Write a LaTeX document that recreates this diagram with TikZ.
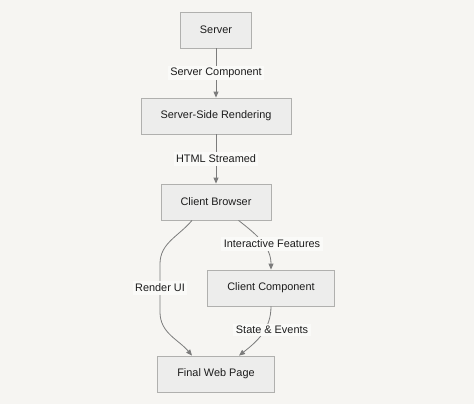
\documentclass[tikz,border=0pt]{standalone}
\usepackage{fontspec}
\setmainfont{Liberation Sans}
\usetikzlibrary{arrows.meta}
\definecolor{bg}{HTML}{F6F5F2}
\definecolor{boxfill}{HTML}{EDEDEC}
\definecolor{boxline}{HTML}{B0B0AE}
\definecolor{edgeline}{HTML}{7C7C7C}
\definecolor{lblfill}{HTML}{FAFAF8}
\definecolor{txt}{HTML}{1C1C1C}
\begin{document}
\begin{tikzpicture}[node distance={86pt}, font=\fontsize{10.9}{12}\selectfont, text=txt,
  main/.style = {draw=boxline, fill=boxfill, line width=0.8pt, inner xsep=19.5pt, minimum height=36pt},
  lbl/.style = {fill=lblfill, inner sep=2.5pt},
  edge/.style = {draw=edgeline, line width=0.8pt, -{Triangle[length=6pt,width=5pt]}}]
\fill[bg] (0,0) rectangle (474pt,-404pt);
\node[main] (1) at (216pt,-30pt) {Server};
\node[main] (2) [below of=1] {Server-Side Rendering};
\node[main] (3) [below of=2] {Client Browser};
\node[main] (4) [below of=3, xshift=55pt] {Client Component};
\node[main] (5) [below of=4, xshift=-55pt] {Final Web Page};
\coordinate (ui1) at (160pt,-264pt);
\coordinate (ui2) at (160pt,-312pt);
\draw[edge] (1) -- node[lbl] {Server Component} (2);
\draw[edge] (2) -- node[lbl] {HTML Streamed} (3);
\draw[edge] ([xshift=-24pt]3.south) to[out=-130,in=90] (ui1) -- node[lbl] {Render UI} (ui2) to[out=-90,in=130] ([xshift=-24pt]5.north);
\draw[edge] ([xshift=22.5pt]3.south) to[out=-38,in=90] (4.north);
\node[lbl] at (272pt,-244pt) {Interactive Features};
\draw[edge] (4.south) to[out=-90,in=38] ([xshift=23pt]5.north);
\node[lbl] at (272pt,-330pt) {State \& Events};
\end{tikzpicture}
\end{document}
